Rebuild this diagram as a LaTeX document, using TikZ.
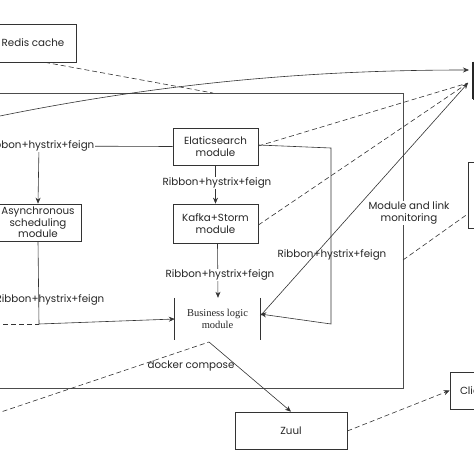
\documentclass[tikz,border=0pt]{standalone}
\usepackage{fontspec}
\setmainfont{Poppins}
\newfontfamily\serifb{Liberation Serif}
\usetikzlibrary{arrows.meta}
\tikzset{
  box/.style={draw=black!80, line width=0.7pt, rectangle, inner sep=0pt, align=center},
  conn/.style={draw=black!80, line width=0.6pt},
  dsh/.style={conn, dash pattern=on 5pt off 3pt},
  tip/.style={-{Stealth[length=6pt,width=5pt]}},
  lbl/.style={font=\fontsize{10.3}{11}\selectfont, text=black!85, inner sep=1pt},
  txt/.style={font=\fontsize{10.3}{11.5}\selectfont, text=black!85, align=center}
}
\begin{document}
\begin{tikzpicture}[x=1pt,y=-1pt]
\useasboundingbox (0,0) rectangle (474,474);
\clip (0,0) rectangle (474,474);
% frame
\draw[draw=black!70, line width=0.9pt] (-10,93) rectangle (403,388);
% boxes
\node[box, txt, minimum width=86pt, minimum height=38pt] (redis) at (33,43) {Redis cache};
\node[box, txt, minimum width=85pt, minimum height=37pt] (elastic) at (215.5,146.5) {Elaticsearch\\module};
\node[box, txt, minimum width=86pt, minimum height=37pt] (async) at (38,222.5) {Asynchronous\\scheduling\\module};
\node[box, txt, minimum width=85pt, minimum height=39pt] (kafka) at (215.5,223.5) {Kafka+Storm\\module};
\node[txt, minimum width=85pt, minimum height=42pt, font=\serifb\fontsize{10.5}{12.5}\selectfont] (biz) at (217.5,319) {Business logic\\module};
\draw[conn, line width=0.7pt] (biz.north west) -- (biz.south west);
\draw[conn, line width=0.7pt] (biz.north east) -- (biz.south east);
\node[box, txt, minimum width=112pt, minimum height=37pt] (zuul) at (291,430.5) {Zuul};
\node[box, txt, minimum width=70pt, minimum height=37pt, text width=60pt, align=left] (client) at (485,390.5) {\hspace{5pt}Client};
\node[box, minimum width=60pt, minimum height=37pt] (monitor) at (503,80.5) {};
\draw[line width=2.2pt, black!85] (monitor.north west) -- (monitor.south west);
\node[box, minimum width=60pt, minimum height=66pt] (rbox) at (498,195) {};
% coordinates
\coordinate (m1) at (468,83);
\coordinate (m2) at (469,70);
\coordinate (leftA) at (-10,118);
\coordinate (leftB) at (-5,414);
\coordinate (leftC) at (-5,324);
\coordinate (apex) at (209,342);
\coordinate (frameT) at (213,93);
\coordinate (frameR) at (403,260);
\coordinate (c1) at (39,146);
\coordinate (c2) at (39,324);
\coordinate (c3) at (331,148);
\coordinate (c4) at (331,324);
% long curve into monitor
\draw[conn, tip] (leftA) .. controls (150,85) and (300,70) .. (m2);
% redis dashed
\draw[dsh] (redis.south) ++(12,0) -- (frameT);
% elastic -> async
\draw[conn, tip] (elastic.west) -- (c1) -- (async.north);
\node[lbl, fill=white] at (40,146) {Ribbon+hystrix+feign};
% elastic -> kafka
\draw[conn, tip] (elastic.south) -- (kafka.north);
\node[lbl, fill=white] at (217,183) {Ribbon+hystrix+feign};
% kafka -> biz
\draw[conn, tip] ([xshift=2pt]kafka.south) -- ([xshift=0.5pt]biz.north);
\node[lbl, fill=white] at (220,275) {Ribbon+hystrix+feign};
% async -> biz
\draw[conn, tip] (async.south) -- (c2) -- (biz.west);
\node[lbl] at (50,300) {Ribbon+hystrix+feign};
\draw[dsh] (leftC) -- (c2);
% elastic -> biz via right
\draw[conn, tip] ([yshift=1.5pt]elastic.east) -- (c3) -- (c4) -- ([yshift=5pt]biz.east);
\node[lbl] at (332,255) {Ribbon+hystrix+feign};
% to monitor
\draw[dsh] ([yshift=0.5pt]elastic.east) -- (m1);
\draw[dsh] ([yshift=-1.5pt]kafka.east) -- (m1);
\draw[conn, tip] ([yshift=3pt]biz.east) -- (m1);
% docker compose
\draw[dsh] (leftB) -- (apex);
\draw[conn, tip] (apex) -- (zuul.north);
\node[lbl] at (191,366) {docker compose};
% zuul -> client
\draw[dsh, tip] ([yshift=-0.5pt]zuul.east) -- (client.west);
% module and link monitoring
\draw[dsh] (frameR) -- ([yshift=-19pt]rbox.west);
\node[txt, fill=white, inner sep=1pt] at (409,213) {Module and link\\monitoring};
\end{tikzpicture}
\end{document}
